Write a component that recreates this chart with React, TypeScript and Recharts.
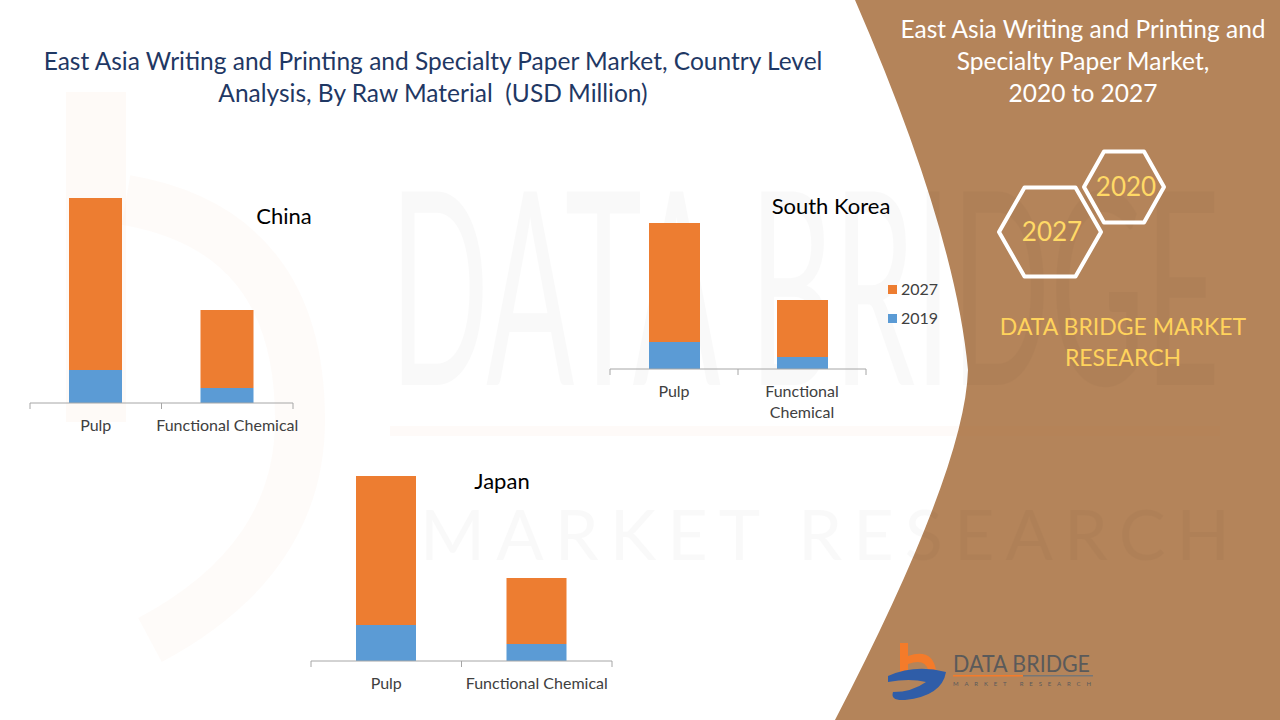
import { BarChart, Bar, XAxis, YAxis } from 'recharts';

// estimated values (relative units)
const categories = ['Pulp', 'Functional Chemical'];
const chinaY2019 = [33, 15];
const chinaY2027 = [172, 78];
const koreaY2019 = [27, 12];
const koreaY2027 = [119, 57];
const japanY2019 = [36, 17];
const japanY2027 = [149, 66];
const legendYears = ['2027', '2019'];

const BLUE = '#5B9BD5';
const ORANGE = '#ED7D31';
const AXIS = '#A6A6A6';
const BROWN = '#B4845A';
const FONT = 'Lato, "Open Sans", sans-serif';
const PAD = 30;

const buildRows = (a: number[], b: number[]) =>
  categories.map((name, i) => ({ name, y2019: a[i], y2027: b[i] }));

function CategoryTick(props: any) {
  const { x, y, payload, index, band, count, wrap } = props;
  const lines: string[] = wrap && payload.value.includes(' ') ? payload.value.split(' ') : [payload.value];
  return (
    <g>
      <line x1={x - band / 2} x2={x - band / 2} y1={y} y2={y + 6} stroke={AXIS} />
      {index === count - 1 && <line x1={x + band / 2} x2={x + band / 2} y1={y} y2={y + 6} stroke={AXIS} />}
      {lines.map((t, i) => (
        <text key={i} x={x} y={y + 28 + i * 21} textAnchor="middle" fontSize={16} fill="#404040" fontFamily={FONT}>
          {t}
        </text>
      ))}
    </g>
  );
}

interface MiniProps {
  rows: { name: string; y2019: number; y2027: number }[];
  left: number;
  axisY: number;
  axisWidth: number;
  plotH: number;
  max: number;
  barSize: number;
  wrap?: boolean;
}

function MiniChart({ rows, left, axisY, axisWidth, plotH, max, barSize, wrap }: MiniProps) {
  const h = plotH + 60;
  const w = axisWidth + PAD * 2;
  return (
    <div style={{ position: 'absolute', left: left - PAD, top: axisY - plotH, width: w, height: h }}>
      <BarChart width={w} height={h} data={rows} margin={{ top: 0, right: PAD, left: PAD, bottom: 0 }}>
        <XAxis
          dataKey="name"
          height={60}
          stroke={AXIS}
          tickLine={false}
          tickSize={0}
          tickMargin={0}
          interval={0}
          tick={<CategoryTick band={axisWidth / rows.length} count={rows.length} wrap={wrap} />}
        />
        <YAxis hide domain={[0, max]} />
        <Bar dataKey="y2019" stackId="a" fill={BLUE} barSize={barSize} isAnimationActive={false} />
        <Bar dataKey="y2027" stackId="a" fill={ORANGE} barSize={barSize} isAnimationActive={false} />
      </BarChart>
    </div>
  );
}

function hexPoints(cx: number, cy: number, w: number, h: number) {
  return [
    [cx - w / 2, cy],
    [cx - w / 4, cy - h / 2],
    [cx + w / 4, cy - h / 2],
    [cx + w / 2, cy],
    [cx + w / 4, cy + h / 2],
    [cx - w / 4, cy + h / 2],
  ]
    .map((p) => p.join(','))
    .join(' ');
}

const label = (text: string, x: number, y: number, size: number, color: string) => (
  <div
    style={{
      position: 'absolute',
      left: x - 500,
      top: y - size * 0.7,
      width: 1000,
      textAlign: 'center',
      fontSize: size,
      lineHeight: `${size * 1.4}px`,
      color,
      fontFamily: FONT,
      whiteSpace: 'pre',
      pointerEvents: 'none',
    }}
  >
    {text}
  </div>
);

export default function App() {
  return (
    <div style={{ position: 'absolute', left: 0, top: 0, width: 1280, height: 720, background: '#fff', overflow: 'hidden' }}>
      <svg width={1280} height={720} style={{ position: 'absolute', left: 0, top: 0 }}>
        {/* faint logo watermark on the left */}
        <rect x={66} y={92} width={60} height={330} fill={ORANGE} opacity={0.04} />
        <path d="M126 200 Q 300 230 300 420 Q 300 560 150 640" fill="none" stroke={ORANGE} strokeWidth={50} opacity={0.03} />
        {/* brown side panel */}
        <path d="M855 0 Q 955 230 968 370 Q 965 470 835 720 L1280 720 L1280 0 Z" fill={BROWN} />
        {/* faint text watermark */}
        <text x={390} y={385} fontSize={270} fontFamily={FONT} textLength={830} lengthAdjust="spacingAndGlyphs" fill="#000" opacity={0.018}>
          DATA BRIDGE
        </text>
        <rect x={390} y={426} width={830} height={10} fill={ORANGE} opacity={0.035}/>
        <text x={420} y={560} fontSize={70} fontFamily={FONT} textLength={810} lengthAdjust="spacing" fill="#000" opacity={0.018}>
          MARKET RESEARCH
        </text>
        <polygon points={hexPoints(1124, 187, 80, 71)} fill="none" stroke="#fff" strokeWidth={4} strokeLinejoin="round" />
        <polygon points={hexPoints(1050, 232, 102, 89)} fill="none" stroke="#fff" strokeWidth={4} strokeLinejoin="round" />
        <text x={1126} y={196} textAnchor="middle" fontSize={26} fontFamily={FONT} fill="#FFD966">2020</text>
        <text x={1052} y={241} textAnchor="middle" fontSize={26} fontFamily={FONT} fill="#FFD966">2027</text>
        {/* logo */}
        <path d="M900 643 L908 643 L908 656 Q 932 648 936 670 L928 670 Q 925 658 908 664 L908 672 L900 672 Z" fill="#F47B2A" />
        <path d="M888 676 Q 915 664 946 672 Q 942 696 905 700 Q 890 701 893 692 Q 912 692 926 682 Q 910 678 888 682 Z" fill="#2F5DA8" />
        <text x={953} y={672} fontSize={23} fontFamily={FONT} fill="#5A5A5A" textLength={137} lengthAdjust="spacingAndGlyphs">DATA BRIDGE</text>
        <rect x={953} y={675} width={70} height={1.5} fill="#F47B2A" />
        <rect x={1023} y={675} width={70} height={1.5} fill="#777" />
        <text x={953} y={686} fontSize={6} fontFamily={FONT} fill="#5A5A5A" textLength={138} lengthAdjust="spacing">MARKET RESEARCH</text>
        {/* South Korea legend */}
        {legendYears.map((yr, i) => (
          <g key={yr}>
            <rect x={888} y={285 + i * 29} width={9} height={9} fill={yr === '2027' ? ORANGE : BLUE} />
            <text x={901} y={295 + i * 29} fontSize={16} fontFamily={FONT} fill="#404040">{yr}</text>
          </g>
        ))}
      </svg>

      {label('East Asia Writing and Printing and Specialty Paper Market, Country Level', 433, 61, 24.5, '#1F3864')}
      {label('Analysis, By Raw Material  (USD Million)', 433, 93, 24.5, '#1F3864')}

      {label('East Asia Writing and Printing and', 1083, 29, 24.5, '#fff')}
      {label('Specialty Paper Market,', 1083, 61, 24.5, '#fff')}
      {label('2020 to 2027', 1083, 93, 24.5, '#fff')}

      {label('DATA BRIDGE MARKET', 1123, 326, 23, '#FFD35C')}
      {label('RESEARCH', 1123, 357, 23, '#FFD35C')}

      {label('China', 284, 216, 22, '#000')}
      {label('South Korea', 831, 206, 22, '#000')}
      {label('Japan', 502, 481, 22, '#000')}

      <MiniChart rows={buildRows(chinaY2019, chinaY2027)} left={30} axisY={403} axisWidth={263} plotH={210} max={210} barSize={53} />
      <MiniChart rows={buildRows(koreaY2019, koreaY2027)} left={610} axisY={369} axisWidth={256} plotH={150} max={150} barSize={51} wrap />
      <MiniChart rows={buildRows(japanY2019, japanY2027)} left={311} axisY={661} axisWidth={301} plotH={190} max={190} barSize={60} />
    </div>
  );
}
